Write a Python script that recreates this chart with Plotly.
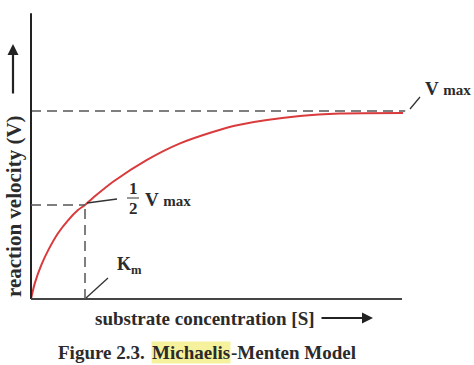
import plotly.graph_objects as go

# Data (units: Km = 1, Vmax = 1)
substrate = [0, 0.07, 0.19, 0.32, 0.5, 0.69, 0.87, 1.0, 1.21, 1.52, 2.14, 2.76, 3.38, 3.84, 4.98, 5.72, 6.89]
velocity = [0, 0.083, 0.18, 0.26, 0.35, 0.42, 0.473, 0.5, 0.553, 0.624, 0.739, 0.828, 0.89, 0.926, 0.973, 0.987, 0.99]
VMAX = 1.0
KM = 1.0
S_END = 6.93      # end of dashed Vmax line
AXIS_X_END = 6.87
AXIS_Y_END = 1.52

W, H = 474, 365
ML, MR, MT, MB = 25, 63, 8, 60
PW, PH = W - ML - MR, H - MT - MB
SX, SY = 54.0, 188.0   # pixels per unit

def px(x):
    return (x - ML) / PW

def py(y):
    return (H - MB - y) / PH

FONT = "Liberation Serif"
TXT = "#2b2b2b"
DASH = "#555555"

fig = go.Figure()
fig.add_trace(go.Scatter(x=substrate, y=velocity, mode="lines",
                         line=dict(color="#d93a3c", width=2, shape="spline", smoothing=0.8),
                         hoverinfo="skip", showlegend=False))

shapes = []
# axes
shapes.append(dict(type="line", xref="x", yref="y", x0=0, x1=0, y0=0, y1=AXIS_Y_END,
                   line=dict(color="#222", width=2)))
shapes.append(dict(type="line", xref="x", yref="y", x0=0, x1=AXIS_X_END, y0=0, y1=0,
                   line=dict(color="#444", width=2)))
# dashed guides
dash = "10px,6px"
shapes.append(dict(type="line", xref="x", yref="y", x0=0, x1=S_END, y0=VMAX, y1=VMAX,
                   line=dict(color=DASH, width=1.5, dash=dash), layer="below"))
shapes.append(dict(type="line", xref="x", yref="y", x0=0, x1=KM, y0=VMAX / 2, y1=VMAX / 2,
                   line=dict(color=DASH, width=1.5, dash=dash)))
shapes.append(dict(type="line", xref="x", yref="y", x0=KM, x1=KM, y0=0, y1=VMAX / 2,
                   line=dict(color=DASH, width=1.5, dash=dash)))
# leader lines (paper coords)
for (a, b, c, d) in [(410, 109, 420, 97), (87, 203, 117, 199), (86, 298, 108, 278)]:
    shapes.append(dict(type="line", xref="paper", yref="paper", x0=px(a), y0=py(b),
                       x1=px(c), y1=py(d), line=dict(color="#333", width=1.3)))
# fraction bar
shapes.append(dict(type="line", xref="paper", yref="paper", x0=px(127), y0=py(198),
                   x1=px(139), y1=py(198), line=dict(color="#333", width=1)))

ann = []
def text(t, x, y, xanchor="left", size=17, angle=0, bg=None, bold=True):
    d = dict(text=("<b>%s</b>" % t) if bold else t, xref="paper", yref="paper",
             x=px(x), y=py(y), xanchor=xanchor, yanchor="middle", showarrow=False,
             textangle=angle, font=dict(family=FONT, size=size, color=TXT))
    if bg:
        d["bgcolor"] = bg
        d["borderpad"] = 0
    ann.append(d)

text("V <span style='font-size:15px'>max</span>", 423, 88, size=19)
text("1", 133, 188, xanchor="center", size=17)
text("2", 133, 208, xanchor="center", size=17)
text("V <span style='font-size:15px'>max</span>", 143, 199, size=19)
text("K<sub>m</sub>", 115, 265, size=18)
text("reaction velocity (V)", 14, 206, xanchor="center", angle=-90, size=21)
text("substrate concentration [S]", 205, 318, xanchor="center", size=19)
text("Figure 2.3. ", 151, 352, xanchor="right", size=19)
text("Michaelis", 151, 352, size=19, bg="#f6f19c")
text("-Menten Model", 229, 352, size=19)

# arrows
ann.append(dict(xref="paper", yref="paper", x=px(13), y=py(44), ax=0, ay=51,
                text="", showarrow=True, arrowhead=2, arrowsize=1, arrowwidth=2.2,
                arrowcolor="#222"))
ann.append(dict(xref="paper", yref="paper", x=px(373), y=py(318), ax=-53, ay=0,
                text="", showarrow=True, arrowhead=2, arrowsize=1, arrowwidth=2.2,
                arrowcolor="#222"))

x0 = -(31 - ML) / SX
y0 = -(H - MB - 299) / SY
fig.update_layout(
    width=W, height=H,
    margin=dict(l=ML, r=MR, t=MT, b=MB),
    paper_bgcolor="white", plot_bgcolor="white",
    xaxis=dict(range=[x0, x0 + PW / SX], visible=False, fixedrange=True),
    yaxis=dict(range=[y0, y0 + PH / SY], visible=False, fixedrange=True),
    shapes=shapes, annotations=ann, showlegend=False,
)

fig.write_html("out.html", post_script="document.body.style.margin='0';",
               config={"displayModeBar": False})
